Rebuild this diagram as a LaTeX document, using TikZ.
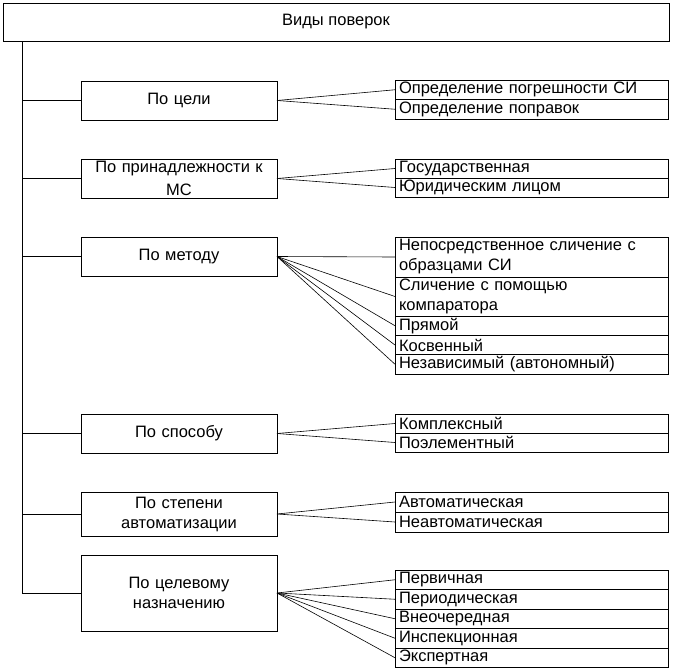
\documentclass[tikz,border=0pt]{standalone}
\usepackage{fontspec}
\setmainfont{Liberation Sans}
\begin{document}
\begin{tikzpicture}[x=1pt,y=-1pt,
  every node/.style={font=\fontsize{16.5}{20}\selectfont, inner sep=0pt, outer sep=0pt},
  lbox/.style={draw, line width=0.8pt, anchor=north west, minimum width=196pt, text width=194pt, align=center},
  rbox/.style={draw, line width=0.8pt, anchor=north west, minimum width=273pt, inner xsep=4pt, text width=265pt, align=left},
  link/.style={line width=0.6pt}]
\useasboundingbox[fill=white] (0,0) rectangle (672,672);
\node[draw, line width=0.8pt, anchor=north west, minimum width=666pt, minimum height=38pt] (top) at (3,3) {Виды поверок};
\coordinate (tr) at (22,0);
% left boxes
\node[lbox, minimum height=39pt] (g1) at (81,81) {По цели};
\node[lbox, minimum height=39pt, font=\fontsize{16.5}{23}\selectfont] (g2) at (81,159) {По принадлежности к\\МС};
\node[lbox, minimum height=39pt] (g3) at (81,237) {По методу};
\node[lbox, minimum height=39pt] (g4) at (81,414) {По способу};
\node[lbox, minimum height=44pt] (g5) at (81,492) {По степени\\автоматизации};
\node[lbox, minimum height=76pt] (g6) at (81,555) {По целевому\\назначению};
% right boxes
\node[rbox, minimum height=19.5pt] (r11) at (395,80) {Определение погрешности СИ};
\node[rbox, minimum height=19.5pt] (r12) at (395,99.5) {Определение поправок};
\node[rbox, minimum height=19pt] (r21) at (395,159) {Государственная};
\node[rbox, minimum height=19pt] (r22) at (395,178) {Юридическим лицом};
\node[rbox, minimum height=40pt] (r31) at (395,237) {Непосредственное сличение с\\образцами СИ};
\node[rbox, minimum height=39pt] (r32) at (395,277) {Сличение с помощью\\компаратора};
\node[rbox, minimum height=19.5pt] (r33) at (395,316) {Прямой};
\node[rbox, minimum height=19pt] (r34) at (395,335.5) {Косвенный};
\node[rbox, minimum height=19.5pt] (r35) at (395,354.5) {Независимый (автономный)};
\node[rbox, minimum height=19pt] (r41) at (395,414) {Комплексный};
\node[rbox, minimum height=19pt] (r42) at (395,433) {Поэлементный};
\node[rbox, minimum height=20pt] (r51) at (395,492) {Автоматическая};
\node[rbox, minimum height=20pt] (r52) at (395,512) {Неавтоматическая};
\node[rbox, minimum height=19.5pt] (r61) at (395,570) {Первичная};
\node[rbox, minimum height=19.5pt] (r62) at (395,589.5) {Периодическая};
\node[rbox, minimum height=19.5pt] (r63) at (395,609) {Внеочередная};
\node[rbox, minimum height=19.5pt] (r64) at (395,628.5) {Инспекционная};
\node[rbox, minimum height=19.5pt] (r65) at (395,648) {Экспертная};
% trunk and branches
\draw[link] (tr |- top.south) -- (tr |- g6.west);
\foreach \g in {g1,g2,g3,g4,g5,g6} \draw[link] (tr |- \g.west) -- (\g.west);
% connectors
\foreach \r in {r11,r12} \draw[link] (g1.east) -- (\r.west);
\foreach \r in {r21,r22} \draw[link] (g2.east) -- (\r.west);
\foreach \r in {r31,r32,r33,r34,r35} \draw[link] (g3.east) -- (\r.west);
\foreach \r in {r41,r42} \draw[link] (g4.east) -- (\r.west);
\foreach \r in {r51,r52} \draw[link] (g5.east) -- (\r.west);
\foreach \r in {r61,r62,r63,r64,r65} \draw[link] (g6.east) -- (\r.west);
\end{tikzpicture}
\end{document}
